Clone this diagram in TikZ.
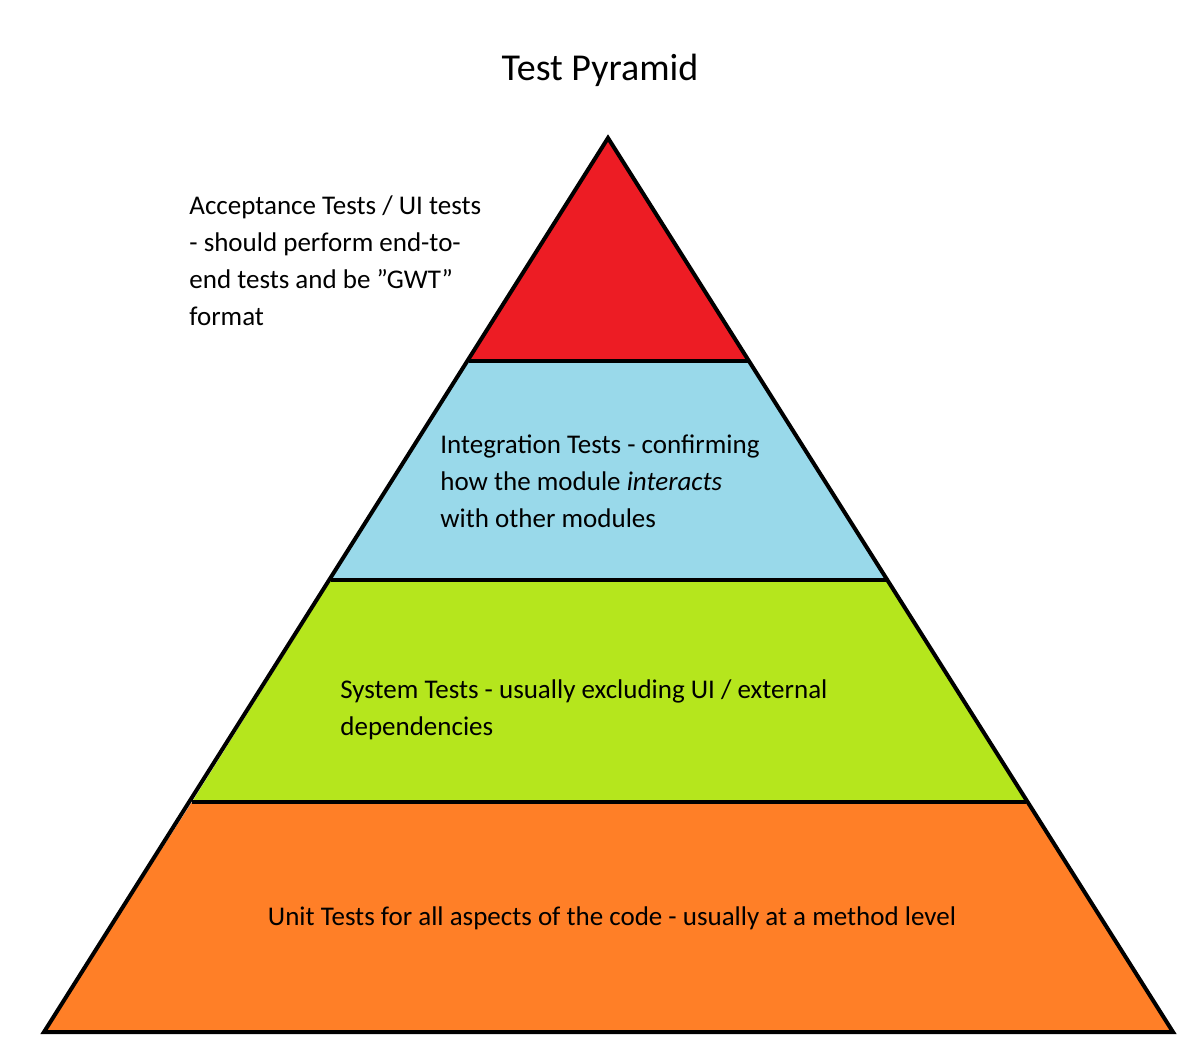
\documentclass[tikz,border=0pt]{standalone}
\usepackage{fontspec}
\setmainfont{Carlito}
\definecolor{cred}{HTML}{ED1C24}
\definecolor{cblue}{HTML}{99D9EA}
\definecolor{cgreen}{HTML}{B5E61D}
\definecolor{corange}{HTML}{FF7F27}
\begin{document}
\begin{tikzpicture}[x=0.5pt,y=-0.5pt,
  band/.style={draw=black,line width=2pt,line join=miter},
  lbl/.style={anchor=north west,align=left,inner sep=0pt,font=\fontsize{13.5}{18.5}\selectfont}]
\useasboundingbox (0,0) rectangle (1200,1061);
\node (title) at (600,70) {\fontsize{19}{22}\selectfont Test Pyramid};
\coordinate (A) at (608,138);
\coordinate (L1) at (469,361); \coordinate (R1) at (748,361);
\coordinate (L2) at (331,580); \coordinate (R2) at (887,580);
\coordinate (L3) at (192,802); \coordinate (R3) at (1026,802);
\coordinate (BL) at (44,1032); \coordinate (BR) at (1173,1032);
\fill[corange] (L3) -- (R3) -- (BR) -- (BL) -- cycle;
\fill[cgreen] (L2) -- (R2) -- (R3) -- (L3) -- cycle;
\fill[cblue] (L1) -- (R1) -- (R2) -- (L2) -- cycle;
\fill[cred] (A) -- (R1) -- (L1) -- cycle;
\draw[band] (A) -- (BR) -- (BL) -- cycle;
\draw[band] (L1) -- (R1);
\draw[band] (L2) -- (R2);
\draw[band] (L3) -- (R3);
\node[lbl] (acc) at (189,195) {Acceptance Tests / UI tests\\- should perform end-to-\\end tests and be "GWT"\\format};
\node[lbl] (int) at (440,434) {Integration Tests - confirming\\how the module \textit{interacts}\\with other modules};
\node[lbl] (sys) at (340,679) {System Tests - usually excluding UI / external\\dependencies};
\node[lbl,anchor=center] (unit) at (612,918) {Unit Tests for all aspects of the code - usually at a method level};
\end{tikzpicture}
\end{document}
